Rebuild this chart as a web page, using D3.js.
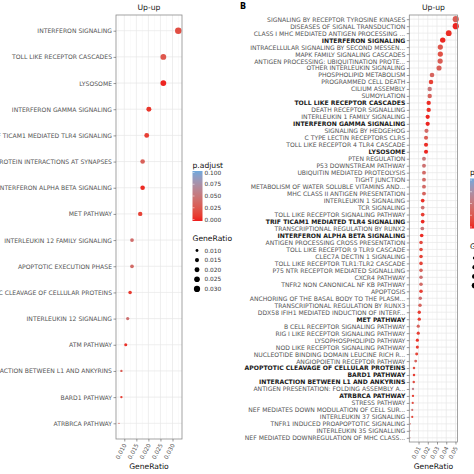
<!DOCTYPE html>
<html>
<head>
<meta charset="utf-8">
<script src="https://cdn.jsdelivr.net/npm/d3@7"></script>
<style>
  body { margin: 0; background: #fff; }
  svg { display: block; font-family: "DejaVu Sans", sans-serif; }
</style>
</head>
<body>
<div id="chart"></div>
<script>
// ---- panel A (cropped on the left) ----
const pathwaysA = [
    "INTERFERON SIGNALING", "TOLL LIKE RECEPTOR CASCADES", "LYSOSOME",
    "INTERFERON GAMMA SIGNALING", "TRIF TICAM1 MEDIATED TLR4 SIGNALING",
    "PROTEIN INTERACTIONS AT SYNAPSES", "INTERFERON ALPHA BETA SIGNALING", "MET PATHWAY",
    "INTERLEUKIN 12 FAMILY SIGNALING", "APOPTOTIC EXECUTION PHASE",
    "APOPTOTIC CLEAVAGE OF CELLULAR PROTEINS", "INTERLEUKIN 12 SIGNALING", "ATM PATHWAY",
    "INTERACTION BETWEEN L1 AND ANKYRINS", "BARD1 PATHWAY", "ATRBRCA PATHWAY"
];
const ratioA = [0.0324, 0.0262, 0.0262, 0.0202, 0.0193, 0.0176, 0.0176, 0.0166,
    0.0132, 0.0132, 0.0124, 0.0114, 0.0106, 0.0088, 0.0088, 0.0078];
const padjA = [0.020, 0.025, 0.002, 0.008, 0.012, 0.032, 0.004, 0.014,
    0.042, 0.040, 0.010, 0.045, 0.006, 0.030, 0.012, 0.025];
const ticksA = [0.010, 0.015, 0.020, 0.025, 0.030];
const sizeKeysA = [0.010, 0.015, 0.020, 0.025, 0.030];

// ---- panel B ----
const pathwaysB = [
    "SIGNALING BY RECEPTOR TYROSINE KINASES", "DISEASES OF SIGNAL TRANSDUCTION",
    "CLASS I MHC MEDIATED ANTIGEN PROCESSING ...", "INTERFERON SIGNALING",
    "INTRACELLULAR SIGNALING BY SECOND MESSEN...", "MAPK FAMILY SIGNALING CASCADES",
    "ANTIGEN PROCESSING: UBIQUITINATION PROTE...", "OTHER INTERLEUKIN SIGNALING",
    "PHOSPHOLIPID METABOLISM", "PROGRAMMED CELL DEATH", "CILIUM ASSEMBLY", "SUMOYLATION",
    "TOLL LIKE RECEPTOR CASCADES", "DEATH RECEPTOR SIGNALLING", "INTERLEUKIN 1 FAMILY SIGNALING",
    "INTERFERON GAMMA SIGNALING", "SIGNALING BY HEDGEHOG", "C TYPE LECTIN RECEPTORS CLRS",
    "TOLL LIKE RECEPTOR 4 TLR4 CASCADE", "LYSOSOME", "PTEN REGULATION", "P53 DOWNSTREAM PATHWAY",
    "UBIQUITIN MEDIATED PROTEOLYSIS", "TIGHT JUNCTION", "METABOLISM OF WATER SOLUBLE VITAMINS AND...",
    "MHC CLASS II ANTIGEN PRESENTATION", "INTERLEUKIN 1 SIGNALING", "TCR SIGNALING",
    "TOLL LIKE RECEPTOR SIGNALING PATHWAY", "TRIF TICAM1 MEDIATED TLR4 SIGNALING",
    "TRANSCRIPTIONAL REGULATION BY RUNX2", "INTERFERON ALPHA BETA SIGNALING",
    "ANTIGEN PROCESSING CROSS PRESENTATION", "TOLL LIKE RECEPTOR 9 TLR9 CASCADE",
    "CLEC7A DECTIN 1 SIGNALING", "TOLL LIKE RECEPTOR TLR1:TLR2 CASCADE",
    "P75 NTR RECEPTOR MEDIATED SIGNALLING", "CXCR4 PATHWAY", "TNFR2 NON CANONICAL NF KB PATHWAY",
    "APOPTOSIS", "ANCHORING OF THE BASAL BODY TO THE PLASM...", "TRANSCRIPTIONAL REGULATION BY RUNX3",
    "DDX58 IFIH1 MEDIATED INDUCTION OF INTERF...", "MET PATHWAY", "B CELL RECEPTOR SIGNALING PATHWAY",
    "RIG I LIKE RECEPTOR SIGNALING PATHWAY", "LYSOPHOSPHOLIPID PATHWAY",
    "NOD LIKE RECEPTOR SIGNALING PATHWAY", "NUCLEOTIDE BINDING DOMAIN LEUCINE RICH R...",
    "ANGIOPOIETIN RECEPTOR PATHWAY", "APOPTOTIC CLEAVAGE OF CELLULAR PROTEINS", "BARD1 PATHWAY",
    "INTERACTION BETWEEN L1 AND ANKYRINS", "ANTIGEN PRESENTATION: FOLDING ASSEMBLY A...",
    "ATRBRCA PATHWAY", "STRESS PATHWAY", "NEF MEDIATES DOWN MODULATION OF CELL SUR...",
    "INTERLEUKIN 37 SIGNALING", "TNFR1 INDUCED PROAPOPTOTIC SIGNALING", "INTERLEUKIN 35 SIGNALLING",
    "NEF MEDIATED DOWNREGULATION OF MHC CLASS..."
];
const ratioB = [0.0503, 0.0503, 0.0427, 0.0362, 0.0336, 0.0336, 0.0334, 0.0322,
    0.0246, 0.0235, 0.0221, 0.0221, 0.0210, 0.0210, 0.0199, 0.0199, 0.0186, 0.0181,
    0.0181, 0.0181, 0.0159, 0.0159, 0.0159, 0.0159, 0.0159, 0.0159, 0.0145, 0.0145,
    0.0145, 0.0145, 0.0141, 0.0134, 0.0127, 0.0127, 0.0127, 0.0127, 0.0127, 0.0127,
    0.0127, 0.0127, 0.0119, 0.0116, 0.0108, 0.0108, 0.0097, 0.0097, 0.0087, 0.0087,
    0.0080, 0.0069, 0.0051, 0.0051, 0.0048, 0.0040, 0.0040, 0.0037, 0.0032, 0.0032,
    0.0011, 0.0008, 0.0008];
const padjB = [0.030, 0.002, 0.005, 0.003, 0.025, 0.022, 0.030, 0.032, 0.035, 0.012,
    0.050, 0.035, 0.004, 0.006, 0.002, 0.002, 0.040, 0.030, 0.005, 0.002, 0.050, 0.045,
    0.040, 0.040, 0.040, 0.035, 0.006, 0.045, 0.012, 0.003, 0.050, 0.004, 0.018, 0.020,
    0.015, 0.015, 0.035, 0.045, 0.040, 0.012, 0.045, 0.035, 0.010, 0.012, 0.035, 0.012,
    0.006, 0.010, 0.015, 0.035, 0.020, 0.012, 0.020, 0.060, 0.012, 0.020, 0.045, 0.015,
    0.040, 0.050, 0.055];
const ticksB = [0.01, 0.02, 0.03, 0.04, 0.05];
const sizeKeysB = [0.01, 0.02, 0.03, 0.04];

const padjTicks = [0, 0.025, 0.05, 0.075, 0.1];

const W = 474, H = 474;
const svg = d3.select("#chart").append("svg").attr("width", W).attr("height", H);

const color = d3.scaleLinear()
    .domain([0, 0.1])
    .range(["#ee1c1c", "#6fa8dc"])
    .interpolate(d3.interpolateLab);

function sizeScale(ratios, dMin, dMax) {
    let t = d3.scaleLinear().domain(d3.extent(ratios)).range([0, 1]);
    return v => (dMin + (dMax - dMin) * Math.sqrt(Math.max(0, t(v)))) / 2;
}

function drawPanel(o) {
    let g = svg.append("g");
    let x = d3.scaleLinear().domain(o.xDomain).range([o.left, o.right]);
    let y = d3.scalePoint().domain(o.pathways).range([o.top, o.bottom]).padding(0.6);
    let r = o.r;

    g.append("rect")
        .attr("x", o.left).attr("y", o.top)
        .attr("width", o.right - o.left).attr("height", o.bottom - o.top)
        .attr("fill", "#fff");

    // minor grid at mid points between breaks
    let step = o.ticks[1] - o.ticks[0];
    let minor = d3.range(-1, o.ticks.length).map(i => o.ticks[0] + (i + 0.5) * step)
        .filter(v => v > o.xDomain[0] && v < o.xDomain[1]);
    g.selectAll(".minor").data(minor).enter().append("line")
        .attr("x1", d => x(d)).attr("x2", d => x(d))
        .attr("y1", o.top).attr("y2", o.bottom)
        .attr("stroke", "#f3f3f3").attr("stroke-width", 0.4);
    g.selectAll(".vmajor").data(o.ticks).enter().append("line")
        .attr("x1", d => x(d)).attr("x2", d => x(d))
        .attr("y1", o.top).attr("y2", o.bottom)
        .attr("stroke", "#e6e6e6").attr("stroke-width", 0.7);
    g.selectAll(".hmajor").data(o.pathways).enter().append("line")
        .attr("x1", o.left).attr("x2", o.right)
        .attr("y1", d => y(d)).attr("y2", d => y(d))
        .attr("stroke", "#e6e6e6").attr("stroke-width", 0.7);

    g.selectAll(".dot").data(o.pathways).enter().append("circle")
        .attr("cx", (d, i) => x(o.ratio[i]))
        .attr("cy", d => y(d))
        .attr("r", (d, i) => r(o.ratio[i]))
        .attr("fill", (d, i) => color(o.padj[i]));

    g.append("rect")
        .attr("x", o.left).attr("y", o.top)
        .attr("width", o.right - o.left).attr("height", o.bottom - o.top)
        .attr("fill", "none").attr("stroke", "#8c8c8c").attr("stroke-width", 0.8);

    // y axis
    let yAxis = g.append("g")
        .attr("transform", `translate(${o.left},0)`)
        .call(d3.axisLeft(y).tickSize(2.5).tickPadding(1.5));
    yAxis.select(".domain").remove();
    yAxis.selectAll("line").attr("stroke", "#555").attr("stroke-width", 0.6);
    yAxis.selectAll("text")
        .attr("font-size", 6.1)
        .attr("font-family", "DejaVu Sans")
        .attr("fill", d => o.bold && o.bold.includes(d) ? "#1a1a1a" : "#555")
        .attr("font-weight", d => o.bold && o.bold.includes(d) ? "bold" : "normal");

    // x axis
    let xAxis = g.append("g")
        .attr("transform", `translate(0,${o.bottom})`)
        .call(d3.axisBottom(x).tickValues(o.ticks).tickFormat(d3.format(o.fmt)).tickSize(2.5));
    xAxis.select(".domain").remove();
    xAxis.selectAll("line").attr("stroke", "#555").attr("stroke-width", 0.6);
    xAxis.selectAll("text")
        .attr("font-size", 5.8)
        .attr("font-family", "DejaVu Sans")
        .attr("fill", "#555")
        .attr("text-anchor", "end")
        .attr("y", 0).attr("dy", 0)
        .attr("transform", "translate(2,6) rotate(-62)");

    let cx = (o.left + o.right) / 2;
    g.append("text")
        .attr("x", cx).attr("y", 10)
        .attr("text-anchor", "middle")
        .attr("font-size", 7.7).attr("fill", "#222")
        .text("Up-up");
    g.append("text")
        .attr("x", cx).attr("y", 469)
        .attr("text-anchor", "middle")
        .attr("font-size", 7.6).attr("fill", "#111")
        .text("GeneRatio");
}

function drawLegend(o) {
    let g = svg.append("g");
    g.append("text").attr("x", o.x).attr("y", o.y)
        .attr("font-size", 7.6).attr("fill", "#111").text("p.adjust");

    let barTop = o.y + 3.5, barH = 50;
    let grad = svg.append("defs").append("linearGradient")
        .attr("id", o.id).attr("x1", 0).attr("y1", 1).attr("x2", 0).attr("y2", 0);
    d3.range(0, 1.0001, 0.1).forEach(t => {
        grad.append("stop").attr("offset", t).attr("stop-color", color(t * 0.1));
    });
    g.append("rect").attr("x", o.x).attr("y", barTop)
        .attr("width", 10).attr("height", barH)
        .attr("fill", `url(#${o.id})`);
    let cy = d3.scaleLinear().domain([0, 0.1]).range([barTop + barH - 1.5, barTop + 1.5]);
    g.selectAll(".cbtick").data(padjTicks).enter().append("line")
        .attr("x1", o.x).attr("x2", o.x + 2).attr("y1", d => cy(d)).attr("y2", d => cy(d))
        .attr("stroke", "#fff").attr("stroke-width", 0.5);
    g.selectAll(".cblab").data(padjTicks).enter().append("text")
        .attr("x", o.x + 12).attr("y", d => cy(d)).attr("dy", "0.35em")
        .attr("font-size", 5.8).attr("fill", "#333")
        .text(d => d3.format(".3f")(d));

    let gy = barTop + barH + 20;
    g.append("text").attr("x", o.x).attr("y", gy)
        .attr("font-size", 7.6).attr("fill", "#111").text("GeneRatio");
    g.selectAll(".key").data(o.keys).enter().append("circle")
        .attr("cx", o.x + 4.5).attr("cy", (d, i) => gy + 9.5 + i * o.keyStep)
        .attr("r", d => o.r(d)).attr("fill", "#000");
    g.selectAll(".keylab").data(o.keys).enter().append("text")
        .attr("x", o.x + 12).attr("y", (d, i) => gy + 9.5 + i * o.keyStep).attr("dy", "0.35em")
        .attr("font-size", 5.8).attr("fill", "#333")
        .text(d => d3.format(o.fmt)(d));
}

let rA = sizeScale(ratioA, 1.3, 6.5);
let rB = sizeScale(ratioB, 1.0, 6.2);

drawPanel({
    pathways: pathwaysA, ratio: ratioA, padj: padjA, r: rA,
    left: 116, right: 182, top: 15, bottom: 439,
    xDomain: [0.00656, 0.03394], ticks: ticksA, fmt: ".3f"
});
drawLegend({ id: "gradA", x: 192.5, y: 167.5, keys: sizeKeysA, keyStep: 9.6, r: rA, fmt: ".3f" });

drawPanel({
    pathways: pathwaysB, ratio: ratioB, padj: padjB, r: rB, bold: pathwaysA,
    left: 409.3, right: 457.5, top: 15, bottom: 442,
    xDomain: [0, 0.0522], ticks: ticksB, fmt: ".2f"
});
drawLegend({ id: "gradB", x: 470, y: 175, keys: sizeKeysB, keyStep: 9.2, r: rB, fmt: ".2f" });

svg.append("text")
    .attr("x", 240).attr("y", 8.5)
    .attr("font-size", 8).attr("font-weight", "bold").attr("fill", "#000")
    .text("B");
</script>
</body>
</html>
